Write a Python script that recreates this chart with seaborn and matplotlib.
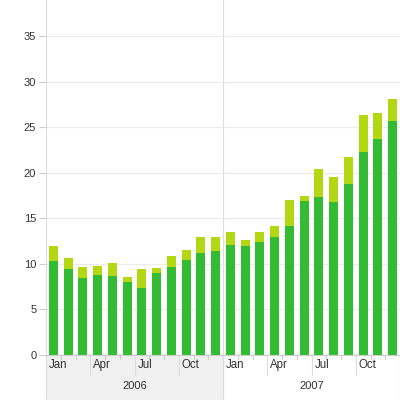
import matplotlib.pyplot as plt
import seaborn as sns
import pandas as pd

# monthly values, Jan 2006 .. Dec 2007
months = ["Jan", "Feb", "Mar", "Apr", "May", "Jun",
          "Jul", "Aug", "Sep", "Oct", "Nov", "Dec"]
years = ["2006", "2007"]
base = [10.3, 9.4, 8.5, 8.8, 8.7, 8.0, 7.4, 9.0, 9.7, 10.4, 11.2, 11.4,
        12.1, 12.0, 12.4, 12.9, 14.2, 16.9, 17.3, 16.8, 18.8, 22.3, 23.7, 25.7]
total = [12.0, 10.6, 9.7, 9.8, 10.1, 8.6, 9.4, 9.6, 10.9, 11.5, 12.9, 12.9,
         13.5, 12.6, 13.5, 14.2, 17.0, 17.5, 20.4, 19.5, 21.7, 26.3, 26.5, 28.1]

df = pd.DataFrame({
    "idx": range(len(base)),
    "base": base,
    "total": total,
})

sns.set_style("white")
plt.rcParams["font.family"] = ["Liberation Sans", "DejaVu Sans"]

fig = plt.figure(figsize=(4, 4), dpi=100)
ax = fig.add_axes([46 / 400, 45 / 400, 354 / 400, 355 / 400])

sns.barplot(data=df, x="idx", y="total", color="#b3d713", width=0.62,
            saturation=1, linewidth=0, ax=ax)
sns.barplot(data=df, x="idx", y="base", color="#33bc33", width=0.62,
            saturation=1, linewidth=0, ax=ax)

ax.set_xlim(-0.5, len(base) - 0.5)
ax.set_ylim(0, 38.95)
ax.set_yticks([0, 5, 10, 15, 20, 25, 30, 35])
ax.yaxis.grid(True, color="#ebebeb", linewidth=0.8)
ax.set_axisbelow(True)
ax.tick_params(axis="y", length=5, color="#cccccc", labelsize=8,
               labelcolor="#333333", pad=2, left=True)
ax.set_xticks([])
ax.set_xlabel("")
ax.set_ylabel("")
for s in ["top", "right"]:
    ax.spines[s].set_visible(False)
ax.spines["left"].set_color("#dddddd")
ax.spines["bottom"].set_color("#cccccc")
ax.spines["left"].set_linewidth(0.8)

# year divider inside plot
ax.axvline(11.5, color="#dddddd", linewidth=0.8, zorder=0)

# category axis below the plot
trans = ax.get_xaxis_transform()
px = 1 / 355
ax.add_patch(plt.Rectangle((-0.5, -44 * px), 12, 44 * px, transform=trans,
                           color="#f0f0f0", clip_on=False, zorder=0))
for k in range(len(base) + 1):
    x = k - 0.5
    if k % 12 == 0:
        ax.plot([x, x], [0, -44 * px], transform=trans, color="#dddddd",
                linewidth=0.8, clip_on=False)
    elif k % 3 == 0:
        ax.plot([x, x], [0, -20 * px], transform=trans, color="#dddddd",
                linewidth=0.8, clip_on=False)
    else:
        ax.plot([x, x], [0, -4 * px], transform=trans, color="#cccccc",
                linewidth=0.8, clip_on=False)
for k in range(0, len(base), 3):
    ax.text(k - 0.5 + 0.2, -10 * px, months[k % 12], transform=trans,
            ha="left", va="center", fontsize=8.3, color="#333333")
for i, y in enumerate(years):
    ax.text(i * 12 + 5.5, -31 * px, y, transform=trans, ha="center",
            va="center", fontsize=8, color="#333333")

fig.savefig("out.png", dpi=100)
